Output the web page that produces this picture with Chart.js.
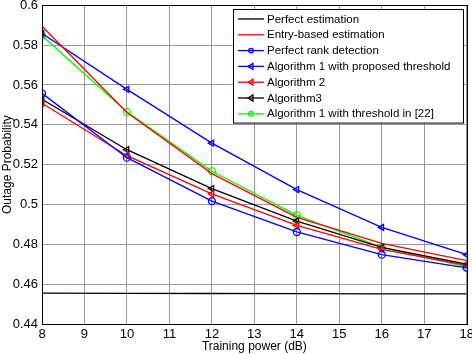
<!DOCTYPE html>
<html>
<head>
<meta charset="utf-8">
<script src="https://cdn.jsdelivr.net/npm/chart.js@4/dist/chart.umd.min.js"></script>
<style>
html,body{margin:0;padding:0;background:#fff;}
#wrap{width:472px;height:354px;}
</style>
</head>
<body>
<div id="wrap"><canvas id="outageChart" width="472" height="354"></canvas></div>
<script>
// training power (dB)
const powers = [8, 10, 12, 14, 16, 18];
const xTicks = [8, 9, 10, 11, 12, 13, 14, 15, 16, 17, 18];
const yTicks = [0.44, 0.46, 0.48, 0.5, 0.52, 0.54, 0.56, 0.58, 0.6];

const perfectEst = [0.4555, 0.4554, 0.4553, 0.4552, 0.4551, 0.4551];
const entryBased = [0.5895, 0.5462, 0.5155, 0.4935, 0.4805, 0.4718];
const perfectRank = [0.5558, 0.5235, 0.5017, 0.4862, 0.4748, 0.4682];
const alg1Proposed = [0.5858, 0.5578, 0.5308, 0.5075, 0.4885, 0.4748];
const alg2 = [0.5508, 0.5245, 0.5053, 0.4895, 0.4775, 0.4695];
const alg3 = [0.5528, 0.5275, 0.5080, 0.4917, 0.4785, 0.4700];
const alg1Ref = [0.5847, 0.5465, 0.5167, 0.4945, 0.4785, 0.4687];

function pts(vals){
return vals.map((v,i) => ({x: powers[i], y: v}));
}

function line(label, vals, color, marker){
return {
label: label,
data: pts(vals),
borderColor: color,
backgroundColor: "rgba(0,0,0,0)",
borderWidth: 1.3,
pointStyle: marker || false,
pointRotation: marker === "triangle" ? -90 : 0,
pointRadius: marker ? 3.5 : 0,
pointBorderWidth: 1.3,
pointBorderColor: color,
pointBackgroundColor: "rgba(0,0,0,0)",
tension: 0
};
}

// MATLAB style legend box inside the plot area
const boxLegend = {
id: "boxLegend",
afterDraw(chart){
const ctx = chart.ctx;
const ds = chart.data.datasets;
const x0 = 233, y0 = 9, w = 230, rowH = 15.8;
const h = ds.length * rowH + 3;
ctx.save();
ctx.fillStyle = "#fff";
ctx.fillRect(x0, y0, w, h);
ctx.strokeStyle = "#000";
ctx.lineWidth = 1;
ctx.strokeRect(x0 + 0.5, y0 + 0.5, w, h);
ctx.font = "11.5px 'Liberation Sans', Arial, sans-serif";
ctx.textBaseline = "middle";
ds.forEach((d, i) => {
const cy = y0 + 10 + i * rowH;
ctx.strokeStyle = d.borderColor;
ctx.lineWidth = 1.3;
ctx.beginPath();
ctx.moveTo(x0 + 5, cy);
ctx.lineTo(x0 + 31, cy);
ctx.stroke();
if(d.pointStyle){
ctx.beginPath();
if(d.pointStyle === "circle"){
ctx.arc(x0 + 18, cy, 2.3, 0, Math.PI * 2);
}else{
ctx.moveTo(x0 + 15, cy);
ctx.lineTo(x0 + 20, cy - 3);
ctx.lineTo(x0 + 20, cy + 3);
ctx.closePath();
}
ctx.stroke();
}
ctx.fillStyle = "#000";
ctx.fillText(d.label, x0 + 34, cy + 0.5);
});
ctx.restore();
}
};

// black frame round the plot
const frame = {
id: "frame",
afterDatasetsDraw(chart){
const a = chart.chartArea;
const ctx = chart.ctx;
ctx.save();
ctx.strokeStyle = "#000";
ctx.lineWidth = 1;
ctx.strokeRect(Math.round(a.left) + 0.5, Math.round(a.top) + 0.5, Math.round(a.right - a.left), Math.round(a.bottom - a.top));
ctx.restore();
}
};

const tickFont = {family: "'Liberation Sans', Arial, sans-serif", size: 13};
const titleFont = {family: "'Liberation Sans', Arial, sans-serif", size: 12};

new Chart(document.getElementById("outageChart"), {
type: "line",
data: {
datasets: [
line("Perfect estimation", perfectEst, "#000000"),
line("Entry-based estimation", entryBased, "#ff0000"),
line("Perfect rank detection", perfectRank, "#0000ff", "circle"),
line("Algorithm 1 with proposed threshold", alg1Proposed, "#0000ff", "triangle"),
line("Algorithm 2", alg2, "#ff0000", "triangle"),
line("Algorithm3", alg3, "#000000", "triangle"),
line("Algorithm 1 with threshold in [22]", alg1Ref, "#00ff00", "circle")
]
},
options: {
responsive: false,
animation: false,
layout: {padding: {top: 5, right: 5, left: 0, bottom: 0}},
plugins: {legend: {display: false}, tooltip: {enabled: false}},
scales: {
x: {
type: "linear",
min: 8,
max: 18,
afterBuildTicks: s => { s.ticks = xTicks.map(v => ({value: v})); },
afterFit: s => { s.height = 30; s.paddingLeft = 0; s.paddingRight = 0; },
grid: {color: "#999", borderDash: [1, 2], drawTicks: false},
border: {display: false},
ticks: {font: tickFont, color: "#000", padding: 3, maxRotation: 0},
title: {display: true, text: "Training power (dB)", font: titleFont, color: "#000", padding: {top: 0, bottom: 0}}
},
y: {
min: 0.44,
max: 0.6,
afterBuildTicks: s => { s.ticks = yTicks.map(v => ({value: v})); },
afterFit: s => { s.width = 42; s.paddingTop = 0; s.paddingBottom = 0; },
grid: {color: "#999", borderDash: [1, 2], drawTicks: false},
border: {display: false},
ticks: {font: tickFont, color: "#000", padding: 4, callback: v => String(+v.toFixed(2))},
title: {display: true, text: "Outage Probability", font: titleFont, color: "#000", padding: {top: 0, bottom: 0}}
}
}
},
plugins: [frame, boxLegend]
});
</script>
</body>
</html>
